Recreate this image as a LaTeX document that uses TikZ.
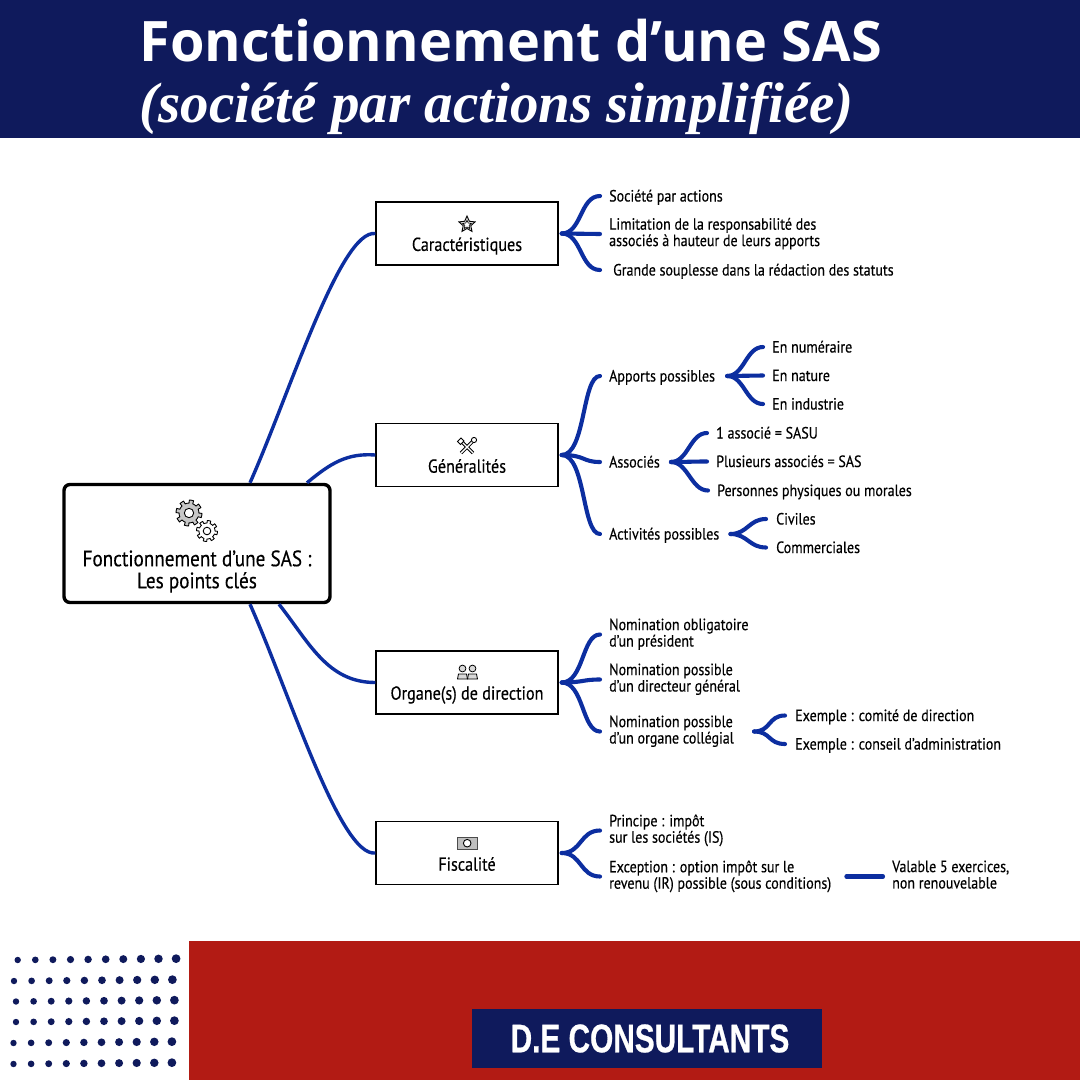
\documentclass[tikz,border=0pt]{standalone}
\usepackage{fontspec}
\usetikzlibrary{calc}
\setmainfont{PT Sans}[FakeStretch=0.86,FakeBold=0.35]
\newfontfamily\titlefont{Open Sans}
\newfontfamily\subfont{Liberation Serif}
\newfontfamily\brandfont{Liberation Sans}[FakeStretch=0.745,FakeBold=0.6]
\definecolor{navy}{HTML}{0F1A5C}
\definecolor{brandred}{HTML}{B21B14}
\definecolor{linkblue}{HTML}{0C2EA0}
\tikzset{
  mainbox/.style={draw=black,line width=3.4pt,rounded corners=6pt,fill=white,minimum width=266pt,minimum height=118pt,inner sep=0pt},
  cardbox/.style={draw=black,line width=1.4pt,fill=white,minimum width=182pt,minimum height=63pt,inner sep=0pt},
  txt/.style={anchor=west,inner xsep=9pt,inner ysep=0pt,align=left,font=\fontsize{16.3}{16.4}\selectfont,text=black,execute at begin node={\rule{0pt}{15pt}},execute at end node={\rule[-4pt]{0pt}{4pt}}},
  boxlabel/.style={font=\fontsize{18.8}{20}\selectfont,text=black,align=center,inner sep=0pt},
  trunk/.style={draw=linkblue,line width=3.4pt},
  branch/.style={draw=linkblue,line width=4.1pt,line cap=round},
  icon/.style={draw=black,line width=.9pt}
}
\newcommand{\gearicon}[4]{%
  \draw[icon,fill=#4] plot[domain=0:360,samples=193] ({#1+#3*(sin(8*\x)>0?1:0.76)*cos(\x)},{#2+#3*(sin(8*\x)>0?1:0.76)*sin(\x)}) -- cycle;
  \draw[icon,fill=white] (#1,#2) circle ({#3*0.36});
}
\begin{document}
\begin{tikzpicture}[x=1pt,y=-1pt]
\useasboundingbox (0,0) rectangle (1080,1080);
\fill[white] (0,0) rectangle (1080,1080);
% header
\fill[navy] (0,0) rectangle (1080,138);
\node[anchor=base west,inner sep=0pt,text=white,font=\titlefont\bfseries\fontsize{55.8}{60}\selectfont] (title) at (139.5,61) {Fonctionnement d’une SAS};
\node[anchor=base west,inner sep=0pt,text=white,font=\subfont\bfseries\itshape\fontsize{57}{60}\selectfont] (subtitle) at (139.5,122) {(société par actions simplifiée)};
% footer
\fill[brandred] (189,941) rectangle (1080,1080);
\node[fill=navy,minimum width=350pt,minimum height=59pt,inner sep=0pt,text=white,font=\brandfont\bfseries\fontsize{40}{42}\selectfont] (brand) at (647,1038.5) {\hspace*{6pt}D.E CONSULTANTS};
\foreach \xo/\yy in {17.7/960,14/981,16/1001.5,16/1022,13.5/1043,13.5/1064}{
  \foreach \i in {0,...,9}{
    \fill[navy] ({\xo+\i*17.6},{\yy-\i*0.15}) circle ({3.2+\i*0.13});
  }
}
% main boxes
\coordinate (mc) at (197,543.5);
\coordinate (c1) at (467,233.5);
\coordinate (c2) at (467,455);
\coordinate (c3) at (467,682.5);
\coordinate (c4) at (467,853);
\node[mainbox] (main) at (mc) {};
\node[cardbox] (car) at (c1) {};
\node[cardbox] (gen) at (c2) {};
\node[cardbox] (org) at (c3) {};
\node[cardbox] (fis) at (c4) {};
% trunks
\draw[trunk] ($(main.north)+(53,0)$) .. controls +(40,-90) and +(-35,-4) .. (car.west);
\draw[trunk] ($(main.north)+(110,0)$) .. controls +(24,-20) and +(-28,-2) .. (gen.west);
\draw[trunk] ($(main.south)+(82,0)$) .. controls +(30,38) and +(-48,0) .. (org.west);
\draw[trunk] ($(main.south)+(53,0)$) .. controls +(40,90) and +(-35,4) .. (fis.west);
% box labels
\node[boxlabel,font=\fontsize{22.3}{22}\selectfont] (mainlab) at (197,571.5) {Fonctionnement d’une SAS :\\Les points clés};
\node[boxlabel] (carlab) at (467,246) {Caractéristiques};
\node[boxlabel] (genlab) at (467,466) {Généralités};
\node[boxlabel] (orglab) at (467,695) {Organe(s) de direction};
\node[boxlabel] (fislab) at (467,864) {Fiscalité};
% icons
\gearicon{189}{513}{13}{black!22}
\gearicon{207}{531}{10.5}{white}
\draw[icon,fill=black!15] plot[samples at={0,36,...,324}] ({467+(mod(\x,72)==0?8.5:4)*sin(\x)},{224.5-(mod(\x,72)==0?8.5:4)*cos(\x)}) -- cycle;
\draw[icon,fill=white,line width=.6pt] plot[samples at={0,36,...,324}] ({467+(mod(\x,72)==0?4.5:2.2)*sin(\x)},{224.8-(mod(\x,72)==0?4.5:2.2)*cos(\x)}) -- cycle;
% tools
\draw[black,line width=3.2pt] (460.5,440.5) -- (473,453) (473.5,440.5) -- (461,453);
\draw[white,line width=1.4pt] (460.5,440.5) -- (473,453) (473.5,440.5) -- (461,453);
\draw[icon,line width=.9pt,fill=white] (474,440) circle (2.6);
\draw[icon,line width=.9pt,fill=white] (457.5,441.5) -- (461,438) -- (464,441) -- (460.5,444.5) -- cycle;
% people
\foreach \px in {462.5,472.5}{
  \draw[icon,line width=.8pt,fill=black!15] (\px,668.5) circle (3.4);
  \draw[icon,line width=.8pt,fill=black!15] (\px-5,679) -- (\px-4,674) -- (\px+4,674) -- (\px+5,679) -- cycle;
}
% banknote
\draw[black!70,line width=1pt,fill=black!25] (457.5,837.5) rectangle (477,849);
\draw[icon,fill=white] (467.2,843.2) circle (3.8);
% level 2 labels
\node[txt] (a1) at (600,196) {Société par actions};
\node[txt] (a2) at (600,234) {Limitation de la responsabilité des\\associés à hauteur de leurs apports};
\node[txt,inner xsep=13pt] (a3) at (600,270) {Grande souplesse dans la rédaction des statuts};
\node[txt] (b1) at (600,376) {Apports possibles};
\node[txt] (b2) at (600,462) {Associés};
\node[txt] (b3) at (600,534) {Activités possibles};
\node[txt] (b11) at (763,347) {En numéraire};
\node[txt] (b12) at (763,375.5) {En nature};
\node[txt] (b13) at (763,404) {En industrie};
\node[txt] (b21) at (707,433) {1 associé = SASU};
\node[txt] (b22) at (707,461.5) {Plusieurs associés = SAS};
\node[txt] (b23) at (708,490.5) {Personnes physiques ou morales};
\node[txt,inner xsep=10pt] (b31) at (766,519) {Civiles};
\node[txt,inner xsep=10pt] (b32) at (766,547.5) {Commerciales};
\node[txt] (c31) at (600,634.5) {Nomination obligatoire\\d’un président};
\node[txt] (c32) at (600,679.5) {Nomination possible\\d’un directeur général};
\node[txt] (c33) at (600,731.5) {Nomination possible\\d’un organe collégial};
\node[txt,inner xsep=10pt] (c331) at (785,715.5) {Exemple : comité de direction};
\node[txt,inner xsep=10pt] (c332) at (785,744) {Exemple : conseil d’administration};
\node[txt] (d1) at (600,830.5) {Principe : impôt\\sur les sociétés (IS)};
\node[txt] (d2) at (600,876.5) {Exception : option impôt sur le\\revenu (IR) possible (sous conditions)};
\node[txt] (d21) at (883,876.5) {Valable 5 exercices,\\non renouvelable};
% branches
\newcommand{\fan}[2]{\foreach \t in {#2}{\draw[branch] (#1) .. controls +(17,0) and +(-17,0) .. (\t.west);}}
\coordinate (carE) at ($(car.east)+(3,0)$);
\coordinate (genE) at ($(gen.east)+(3,0)$);
\coordinate (orgE) at ($(org.east)+(3,0)$);
\coordinate (fisE) at ($(fis.east)+(3,0)$);
\coordinate (b1E) at ($(b1.east)+(3,0)$);
\coordinate (b2E) at ($(b2.east)+(2,0)$);
\coordinate (b3E) at ($(b3.east)+(2,0)$);
\coordinate (c33E) at ($(c33.east)+(11,0)$);
\coordinate (d2E) at ($(d2.east)+(6,0)$);
\foreach \t in {a1,a2,a3}{\draw[branch] (carE) .. controls +(20,0) and +(-20,0) .. (\t.west);}
\foreach \t in {b1,b2,b3}{\draw[branch] (genE) .. controls +(24,0) and +(-18,0) .. (\t.west);}
\foreach \t in {c31,c32,c33}{\draw[branch] (orgE) .. controls +(22,0) and +(-18,0) .. (\t.west);}
\foreach \t in {d1,d2}{\draw[branch] (fisE) .. controls +(20,0) and +(-20,0) .. (\t.west);}
\fan{b1E}{b11,b12,b13}
\fan{b2E}{b21,b22,b23}
\fan{b3E}{b31,b32}
\fan{c33E}{c331,c332}
\draw[branch] (d2E) -- (d21.west);
\end{tikzpicture}
\end{document}
